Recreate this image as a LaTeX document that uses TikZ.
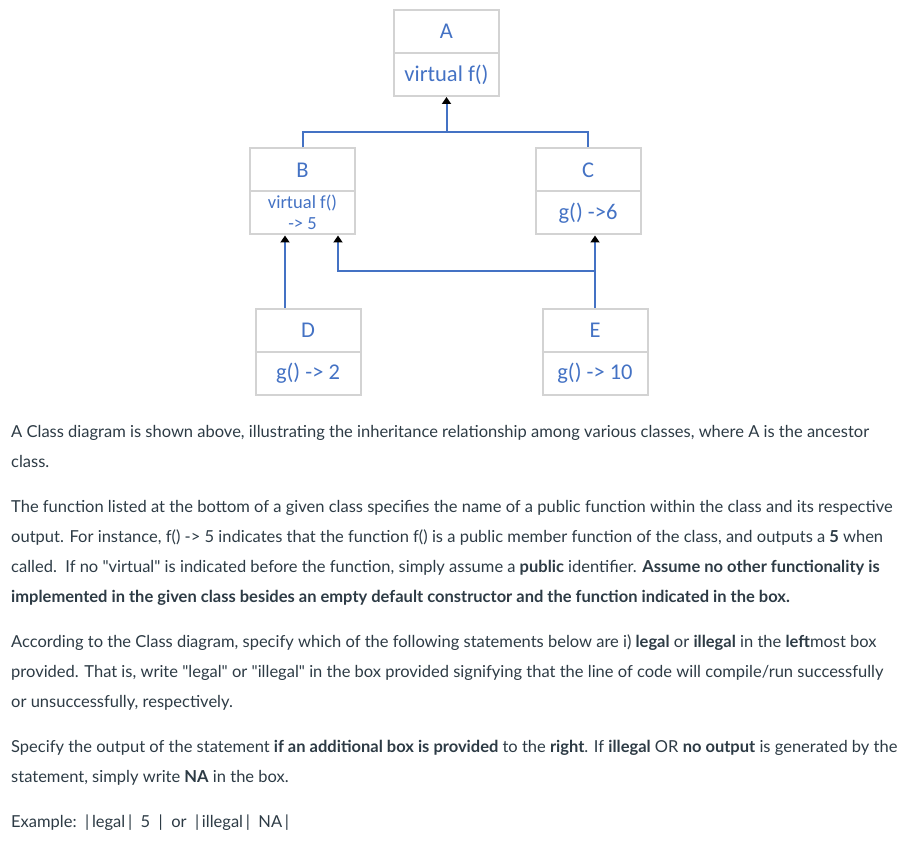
\documentclass[tikz,border=0pt]{standalone}
\usepackage{fontspec}
\setmainfont{Lato}[Ligatures=TeXOff]
\newfontfamily\diagfont{Carlito}[Ligatures=TeXOff]
\usetikzlibrary{arrows.meta,calc}
\definecolor{linkblue}{HTML}{4472C4}
\definecolor{boxgray}{HTML}{D3D3D3}
\definecolor{ink}{HTML}{2D3B45}
\begin{document}
\begin{tikzpicture}[x=1pt,y=-1pt,
  cls/.style={draw=boxgray, line width=2pt, minimum width=105pt, minimum height=86pt, inner sep=0pt},
  divider/.style={draw=boxgray, line width=2pt},
  ttl/.style={text=linkblue, inner sep=0pt, font=\diagfont\fontsize{22.5}{26}\selectfont},
  bodysm/.style={text=linkblue, inner sep=0pt, align=center, font=\diagfont\fontsize{18.5}{21}\selectfont},
  conn/.style={draw=linkblue, line width=2pt},
  tip/.style={-{Triangle[width=9pt,length=7pt,color=black]}},
  para/.style={anchor=base west, inner sep=0pt, text=ink, font=\fontsize{16.5}{20}\selectfont}]
\path[use as bounding box] (0,0) rectangle (903,842);

% class boxes
\node[cls] (A) at (446.5,53) {};
\node[cls] (B) at (302.5,191.5) {};
\node[cls] (C) at (588,191.5) {};
\node[cls] (D) at (308,352) {};
\node[cls] (E) at (595,352) {};
\foreach \n in {A,B,C,D,E} {\draw[divider] (\n.west) -- (\n.east);}

% texts
\node[ttl] (At) at ($(A.center)+(0,-21.5)$) {A};
\node[ttl] (Ab) at ($(A.center)+(0,21.5)$) {virtual f()};
\node[ttl] (Bt) at ($(B.center)+(0,-21.5)$) {B};
\node[bodysm] (Bb) at ($(B.center)+(0,21)$) {virtual f()\\-> 5};
\node[ttl] (Ct) at ($(C.center)+(0,-21.5)$) {C};
\node[ttl] (Cb) at ($(C.center)+(0,21.5)$) {g() ->6};
\node[ttl] (Dt) at ($(D.center)+(0,-21.5)$) {D};
\node[ttl] (Db) at ($(D.center)+(0,21.5)$) {g() -> 2};
\node[ttl] (Et) at ($(E.center)+(0,-21.5)$) {E};
\node[ttl] (Eb) at ($(E.center)+(0,21.5)$) {g() -> 10};

% connectors
\coordinate (jA) at (446.5,132);
\coordinate (jE) at (595,271);
\draw[conn] (B.north) |- (jA) -| (C.north);
\draw[conn,tip] (jA) -- (A.south);
\draw[conn,tip] ($(D.north)+(-23,0)$) -- ($(B.south)+(-17.5,0)$);
\draw[conn,tip] (E.north) -- (jE) -| ($(B.south)+(35.5,0)$);
\draw[conn,tip] (jE) -- (jE |- C.south);

% text
\node[para] (p1) at (11,438) {A Class diagram is shown above, illustrating the inheritance relationship among various classes, where A is the ancestor};
\node[para] (p2) at (11,467.5) {class.};
\node[para] (p3) at (11,512.7) {The function listed at the bottom of a given class specifies the name of a public function within the class and its respective};
\node[para] (p4) at (11,542.7) {output. For instance, f() -> 5 indicates that the function f() is a public member function of the class, and outputs a \textbf{5} when};
\node[para] (p5) at (11,572.3) {called.\ \ If no "virtual" is indicated before the function, simply assume a \textbf{public} identifier. \textbf{Assume no other functionality is}};
\node[para] (p6) at (11,602.3) {\textbf{implemented in the given class besides an empty default constructor and the function indicated in the box.}};
\node[para] (p7) at (11,647.7) {According to the Class diagram, specify which of the following statements below are i) \textbf{legal} or \textbf{illegal} in the \textbf{left}most box};
\node[para] (p8) at (11,677.7) {provided. That is, write "legal" or "illegal" in the box provided signifying that the line of code will compile/run successfully};
\node[para] (p9) at (11,707.7) {or unsuccessfully, respectively.};
\node[para] (p10) at (11,752.7) {Specify the output of the statement \textbf{if an additional box is provided} to the \textbf{right}. If \textbf{illegal} OR \textbf{no output} is generated by the};
\node[para] (p11) at (11,782.7) {statement, simply write \textbf{NA} in the box.};
\node[para] (p12) at (11,827.7) {Example:\ \ |\,legal\,|\ \ 5\ \ |\ \ or\ \ |\,illegal\,|\ \ NA\,|};
\end{tikzpicture}
\end{document}
